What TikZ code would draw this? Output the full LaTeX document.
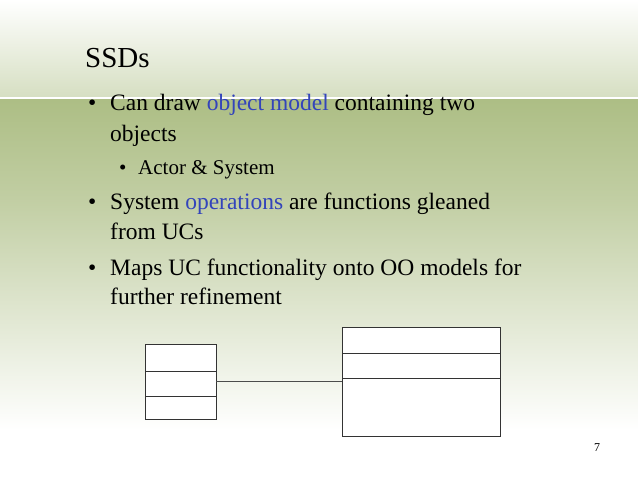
\documentclass[tikz,border=0pt]{standalone}
\usepackage{fontspec}
\setmainfont{Liberation Serif}
\definecolor{hl}{HTML}{3344BB}
\definecolor{gr}{HTML}{ADBE85}
\begin{document}
\begin{tikzpicture}[x=1pt,y=-1pt,
  txt/.style={anchor=base west,inner sep=0pt,font=\fontsize{23.5}{26}\selectfont},
  sub/.style={anchor=base west,inner sep=0pt,font=\fontsize{21}{24}\selectfont},
  box/.style={draw=black!80,line width=0.8pt,fill=white}]
\useasboundingbox (0,0) rectangle (638,478);
\fill[top color=white,bottom color=gr!50] (0,0) rectangle (638,97);
\fill[white] (0,97) rectangle (638,100);
\fill[top color=gr,bottom color=gr!75] (0,100) rectangle (638,200);
\fill[top color=gr!75,bottom color=white] (0,200) rectangle (638,430);
\fill[white] (0,430) rectangle (638,478);
\node[anchor=base west,inner sep=0pt,font=\fontsize{29}{32}\selectfont] (t) at (85,68) {SSDs};
\node[txt] (b1) at (88,111) {•};
\node[txt] (l1) at (110,111) {Can draw \textcolor{hl}{object model} containing two};
\node[txt] (l1b) at (110,142) {objects};
\node[sub] (b2) at (119,175) {•};
\node[sub] (l2) at (138,175) {Actor \& System};
\node[txt] (b3) at (88,210) {•};
\node[txt] (l3) at (110,210) {System \textcolor{hl}{operations} are functions gleaned};
\node[txt] (l3b) at (110,240) {from UCs};
\node[txt] (b4) at (88,276) {•};
\node[txt] (l4) at (110,276) {Maps UC functionality onto OO models for};
\node[txt] (l4b) at (110,305) {further refinement};
\draw[box] (145,344) rectangle (216,419);
\draw[black!80,line width=0.8pt] (145,371) -- (216,371) (145,396) -- (216,396);
\coordinate (a) at (216,381);
\draw[box] (342,327) rectangle (500,436);
\draw[black!80,line width=0.8pt] (342,353) -- (500,353) (342,378) -- (500,378);
\coordinate (b) at (342,381);
\draw[black!70,line width=0.7pt] (a) -- (b);
\node[anchor=base,inner sep=0pt,font=\fontsize{12}{13}\selectfont] (n) at (597,452) {7};
\end{tikzpicture}
\end{document}
